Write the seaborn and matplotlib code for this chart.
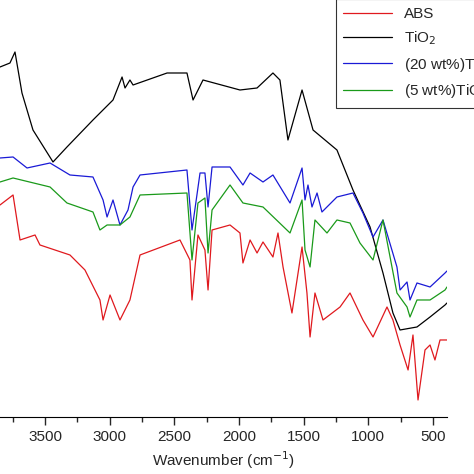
import matplotlib
matplotlib.use("Agg")
import matplotlib.pyplot as plt
import seaborn as sns
import pandas as pd

sns.set_style("white")
plt.rcParams["font.family"] = ["Liberation Sans", "DejaVu Sans"]

# wavenumber (cm-1) and transmittance (a.u.)
tio2_wn = [3848, 3771, 3732, 3678, 3593, 3438, 3330, 3129, 2974, 2904, 2881, 2843, 2819, 2556, 2402,
           2355, 2278, 1992, 1860, 1737, 1683, 1621, 1512, 1427, 1242, 1118, 986, 886, 809, 754, 623, 522, 406, 391]
tio2_t = [407, 411, 422, 381, 344, 312, 327, 354, 374, 397, 386, 394, 389, 401, 401,
          374, 394, 384, 386, 401, 394, 334, 384, 344, 324, 284, 247, 201, 161, 144, 147, 157, 169, 171]

c20_wn = [3848, 3747, 3639, 3461, 3307, 3129, 3051, 3020, 2974, 2920, 2858, 2819, 2765, 2402, 2363,
          2301, 2263, 2239, 2208, 2069, 1969, 1914, 1814, 1737, 1605, 1512, 1489, 1466, 1435, 1396,
          1358, 1242, 1118, 1041, 963, 886, 778, 754, 700, 677, 623, 522, 406, 391]
c20_t = [316, 317, 306, 311, 299, 297, 274, 257, 274, 249, 264, 287, 299, 304, 244,
         301, 301, 267, 307, 307, 289, 301, 292, 299, 271, 306, 274, 289, 267, 281,
         262, 277, 281, 261, 237, 254, 207, 184, 192, 174, 191, 187, 201, 203]

c5_wn = [3848, 3747, 3461, 3330, 3129, 3075, 3020, 2920, 2843, 2765, 2402, 2363, 2317, 2263, 2239,
         2208, 2069, 1969, 1814, 1605, 1512, 1489, 1450, 1412, 1319, 1242, 1141, 1064, 963, 886,
         778, 700, 677, 623, 522, 406, 391]
c5_t = [292, 296, 287, 271, 262, 244, 249, 249, 257, 279, 281, 214, 271, 276, 221,
        264, 289, 271, 267, 241, 274, 224, 207, 254, 241, 254, 251, 231, 214, 254,
        181, 167, 157, 174, 174, 184, 187]

abs_wn = [3848, 3747, 3693, 3577, 3539, 3307, 3191, 3075, 3051, 2997, 2920, 2843, 2765, 2456, 2379,
          2363, 2317, 2263, 2239, 2208, 2069, 1992, 1969, 1914, 1860, 1814, 1737, 1698, 1659, 1590,
          1512, 1474, 1450, 1412, 1350, 1218, 1141, 1041, 963, 855, 809, 754, 692, 654, 615,
          561, 522, 484, 445, 391]
abs_t = [269, 279, 234, 239, 229, 219, 204, 174, 154, 179, 154, 174, 219, 234, 214,
         174, 239, 224, 184, 244, 249, 241, 211, 234, 221, 232, 217, 241, 207, 161,
         227, 181, 137, 181, 154, 167, 181, 154, 137, 167, 154, 129, 104, 139, 74,
         124, 129, 114, 134, 134]

series = [("ABS", abs_wn, abs_t, "#e0191e"),
          ("TiO$_2$", tio2_wn, tio2_t, "#000000"),
          ("(20 wt%)TiO$_2$", c20_wn, c20_t, "#1a1ad6"),
          ("(5 wt%)TiO$_2$", c5_wn, c5_t, "#1a9a1a")]

fig = plt.figure(figsize=(4.74, 4.74), dpi=100)
ax = fig.add_axes([0, 0.1203, 0.943, 0.8797])
for name, wn, t, col in series:
    df = pd.DataFrame({"wn": wn, "t": t})
    sns.lineplot(data=df, x="wn", y="t", ax=ax, color=col, lw=0.9, label=name, sort=False)

ax.set_xlim(3848, 391)
ax.set_ylim(57, 474)
ax.set_xticks([3500, 3000, 2500, 2000, 1500, 1000, 500])
ax.set_xticks([3750, 3250, 2750, 2250, 1750, 1250, 750], minor=True)
ax.tick_params(axis="x", which="major", direction="out", length=6, width=1, labelsize=11, bottom=True)
ax.tick_params(axis="x", which="minor", direction="out", length=3.5, width=1, bottom=True)
ax.set_yticks([])
for s in ["top", "right", "left"]:
    ax.spines[s].set_visible(False)
ax.spines["bottom"].set_color("black")
ax.set_xlabel("Wavenumber (cm$^{-1}$)", fontsize=11)
ax.set_ylabel("")
handles, labels = ax.get_legend_handles_labels()
ax.get_legend().remove()
leg = fig.legend(handles, labels, loc="lower left", bbox_to_anchor=(0.692, 0.757), fontsize=11,
                 frameon=True, fancybox=False, edgecolor="black", handlelength=3.2,
                 labelspacing=0.55, borderpad=0.5)
leg.get_frame().set_linewidth(0.8)
fig.savefig("out.png", dpi=100)
